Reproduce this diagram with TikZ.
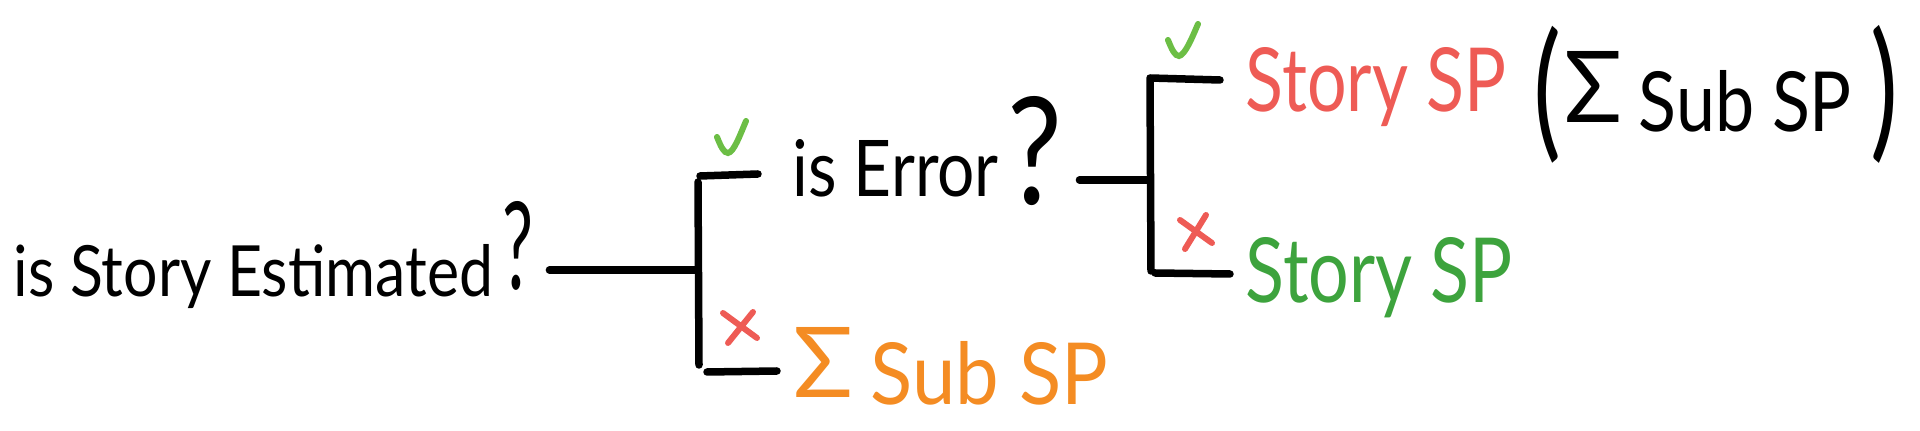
\documentclass[tikz,border=0pt]{standalone}
\usepackage{fontspec}
\setmainfont{Lato}
\usepackage{graphicx}
\usepackage{xcolor}
\definecolor{inkred}{HTML}{EE5B55}
\definecolor{inkgreen}{HTML}{3DA33D}
\definecolor{inkcheck}{HTML}{6CBE45}
\definecolor{inkorange}{HTML}{F48C23}
\newcommand{\handtxt}[3]{\resizebox{#1cm}{#2cm}{#3}}
\newcommand{\handpar}[3]{\resizebox*{#1cm}{#2cm}{#3}}
\tikzset{
  handtext/.style={inner sep=0pt, anchor=base west},
  handparen/.style={inner sep=0pt, anchor=north west},
  stroke/.style={line width=0.075cm, line cap=round, line join=round},
  tickmark/.style={line width=0.06cm, line cap=round, draw=inkcheck},
  crossmark/.style={line width=0.06cm, line cap=round, draw=inkred},
}
\begin{document}
\begin{tikzpicture}[x=0.01cm, y=-0.01cm]%
\useasboundingbox (0,0) rectangle (1920,431);%
% first question
\node[handtext] (estq) at (13,297) {\handtxt{4.79}{0.52}{is Story Estimated}};%
\node[handtext] (q1) at (502,290) {\handtxt{0.31}{0.88}{?}};%
\coordinate (fork1) at (698,270);%
\draw[stroke] ([xshift=0.15cm]q1.east |- fork1) -- (fork1);%
\draw[stroke] (698,182) -- (699,365);%
\draw[stroke] (700,176) -- (758,174);%
\draw[stroke] (707,372) -- (777,371);%
\draw[tickmark] (717,137) .. controls (721,147) and (724,153) .. (728,153) .. controls (734,152) and (740,135) .. (746,121);%
\draw[crossmark] (723,313) -- (757,338) (753,312) -- (728,343);%
% second question
\node[handtext] (err) at (792,197) {\handtxt{2.06}{0.57}{is Error}};%
\node[handtext] (q2) at (1007,205) {\handtxt{0.55}{1.08}{?}};%
\coordinate (fork2) at (1148,180);%
\draw[stroke] ([xshift=0.16cm]q2.east |- fork2) -- (fork2);%
\draw[stroke] (1150,80) -- (1151,271);%
\draw[stroke] (1150,78) -- (1220,80);%
\draw[stroke] (1155,273) -- (1230,274);%
\draw[tickmark] (1168,40) .. controls (1172,50) and (1175,56) .. (1179,56) .. controls (1185,55) and (1192,38) .. (1198,24);%
\draw[crossmark] (1180,220) -- (1212,243) (1206,215) -- (1185,249);%
% answers
\node[handtext, text=inkred] (storyred) at (1245,112) {\handtxt{2.60}{0.64}{Story SP}};%
\node[handparen] (lpar) at (1533,25) {\handpar{0.28}{1.37}{(}};%
\node[handtext] (sigmablack) at (1564,123) {\handtxt{0.58}{0.71}{Σ}};%
\node[handtext] (subblack) at (1638,132) {\handtxt{2.13}{0.61}{Sub SP}};%
\node[handparen] (rpar) at (1870,25) {\handpar{0.28}{1.38}{)}};%
\node[handtext, text=inkgreen] (storygreen) at (1245,303) {\handtxt{2.67}{0.65}{Story SP}};%
\node[handtext, text=inkorange] (sigmaorange) at (793,398) {\handtxt{0.60}{0.70}{Σ}};%
\node[handtext, text=inkorange] (suborange) at (870,405) {\handtxt{2.37}{0.63}{Sub SP}};%
\end{tikzpicture}
\end{document}
